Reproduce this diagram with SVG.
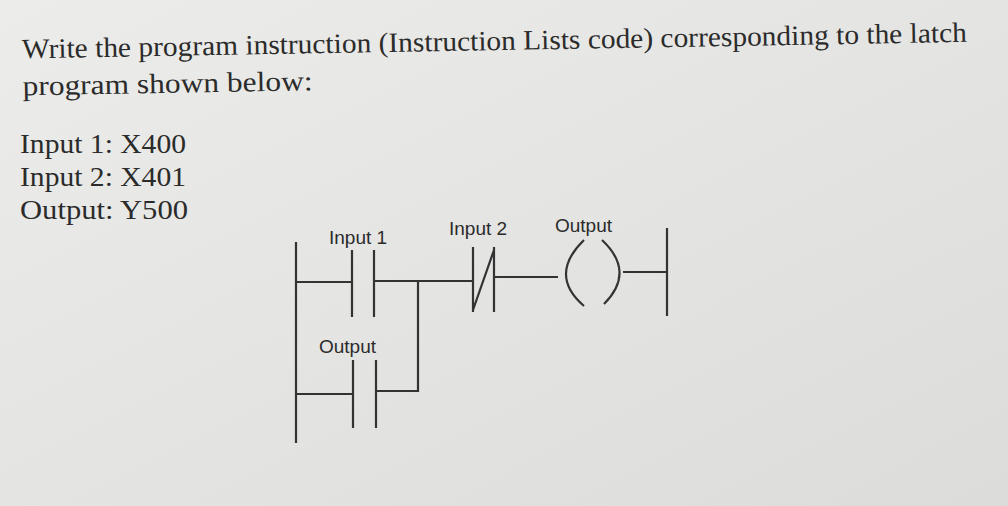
<svg xmlns="http://www.w3.org/2000/svg" width="1008" height="506" viewBox="0 0 1008 506">
<style>
.t{font-family:"Liberation Serif",serif;font-size:28px;fill:#2b2b2b}
.l{font-family:"Liberation Sans",Arial,sans-serif;font-size:19px;fill:#2b2b2b}
.w{stroke:#333;stroke-width:2.2;fill:none}
</style>
<defs><linearGradient id="bg" x1="0" y1="0" x2="1" y2="1"><stop offset="0" stop-color="#ececea"/><stop offset="1" stop-color="#dcdcda"/></linearGradient></defs>
<rect width="1008" height="506" fill="url(#bg)"/>
<g transform="rotate(-1 500 50)">
<text class="t" x="22" y="50" textLength="945" lengthAdjust="spacingAndGlyphs">Write the program instruction (Instruction Lists code) corresponding to the latch</text>
<text class="t" x="22" y="87" textLength="290" lengthAdjust="spacingAndGlyphs">program shown below:</text>
</g>
<text class="t" x="20" y="153" textLength="166" lengthAdjust="spacingAndGlyphs">Input 1: X400</text>
<text class="t" x="20" y="186" textLength="166" lengthAdjust="spacingAndGlyphs">Input 2: X401</text>
<text class="t" x="20" y="219" textLength="168" lengthAdjust="spacingAndGlyphs">Output: Y500</text>
<g id="connectors" class="w">
<path d="M296 242V443"/>
<path d="M667 228V316"/>
<path d="M296 282H352M374 281H473M494 277H558M623 272H667"/>
<path d="M418 280V391H376M296 394H353"/>
</g>
<g id="input1"><text class="l" x="329" y="244">Input 1</text><path class="w" d="M352 250V317M374 250V317"/></g>
<g id="input2"><text class="l" x="449" y="235">Input 2</text><path class="w" d="M473 247V312M494 247V312M473 310L494 250"/></g>
<g id="coil"><text class="l" x="555" y="232">Output</text><path class="w" d="M584 240Q548 275 584 306M602 240Q636 272 604 304"/></g>
<g id="outcontact"><text class="l" x="319" y="353">Output</text><path class="w" d="M353 360V428M376 360V428"/></g>
</svg>
